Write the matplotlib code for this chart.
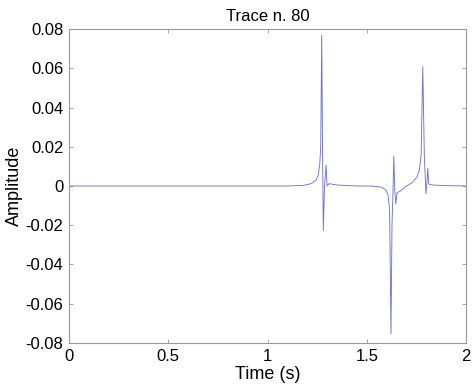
import matplotlib
matplotlib.use('Agg')
import matplotlib.pyplot as plt

plt.rcParams['font.family'] = ['Liberation Sans', 'DejaVu Sans']

# trace samples (time in s, amplitude)
tiempo = [0.0, 1.10, 1.18, 1.22, 1.245, 1.255, 1.263, 1.268, 1.273, 1.277,
          1.281, 1.287, 1.295, 1.300, 1.31, 1.35, 1.45, 1.52, 1.57, 1.595,
          1.607, 1.615, 1.622, 1.627, 1.632, 1.636, 1.641, 1.646, 1.652,
          1.67, 1.70, 1.73, 1.752, 1.765, 1.774, 1.782, 1.79, 1.798, 1.803,
          1.807, 1.812, 1.83, 1.9, 2.0]
amplitud = [0.0, 0.0, 0.0003, 0.0012, 0.003, 0.0055, 0.011, 0.02, 0.0769, 0.02,
            -0.0228, 0.0, 0.0107, 0.0, 0.0012, 0.0005, 0.0, 0.0, -0.0005, -0.0018,
            -0.0045, -0.012, -0.0754, -0.02, -0.003, 0.0153, -0.002, -0.0092, -0.0035,
            -0.0025, 0.0, 0.0018, 0.0045, 0.008, 0.016, 0.0608, 0.015, -0.004, 0.002,
            0.009, 0.001, 0.0005, 0.0002, 0.0]

x_ticks = [0, 0.5, 1, 1.5, 2]
x_labels = ['0', '0.5', '1', '1.5', '2']
y_ticks = [-0.08, -0.06, -0.04, -0.02, 0, 0.02, 0.04, 0.06, 0.08]
y_labels = ['-0.08', '-0.06', '-0.04', '-0.02', '0', '0.02', '0.04', '0.06', '0.08']

fig = plt.figure(figsize=(4.74, 3.89), dpi=100)
ax = fig.add_axes([0.1456, 0.1183, 0.8376, 0.8071])

ax.plot(tiempo, amplitud, color=(0.45, 0.45, 0.8), linewidth=0.65)

ax.set_xlim(0, 2)
ax.set_ylim(-0.08, 0.08)
ax.set_xticks(x_ticks)
ax.set_xticklabels(x_labels)
ax.set_yticks(y_ticks)
ax.set_yticklabels(y_labels)
ax.tick_params(direction='in', length=3, width=0.6, color='#999999',
               labelsize=12, top=True, right=True, pad=4)
for s in ax.spines.values():
    s.set_color('#999999')
    s.set_linewidth(0.8)

ax.set_title('Trace n. 80', fontsize=12, pad=6)
ax.set_xlabel('Time (s)', fontsize=13, labelpad=2)
ax.set_ylabel('Amplitude', fontsize=13, labelpad=2)

fig.savefig('out.png', dpi=100)
